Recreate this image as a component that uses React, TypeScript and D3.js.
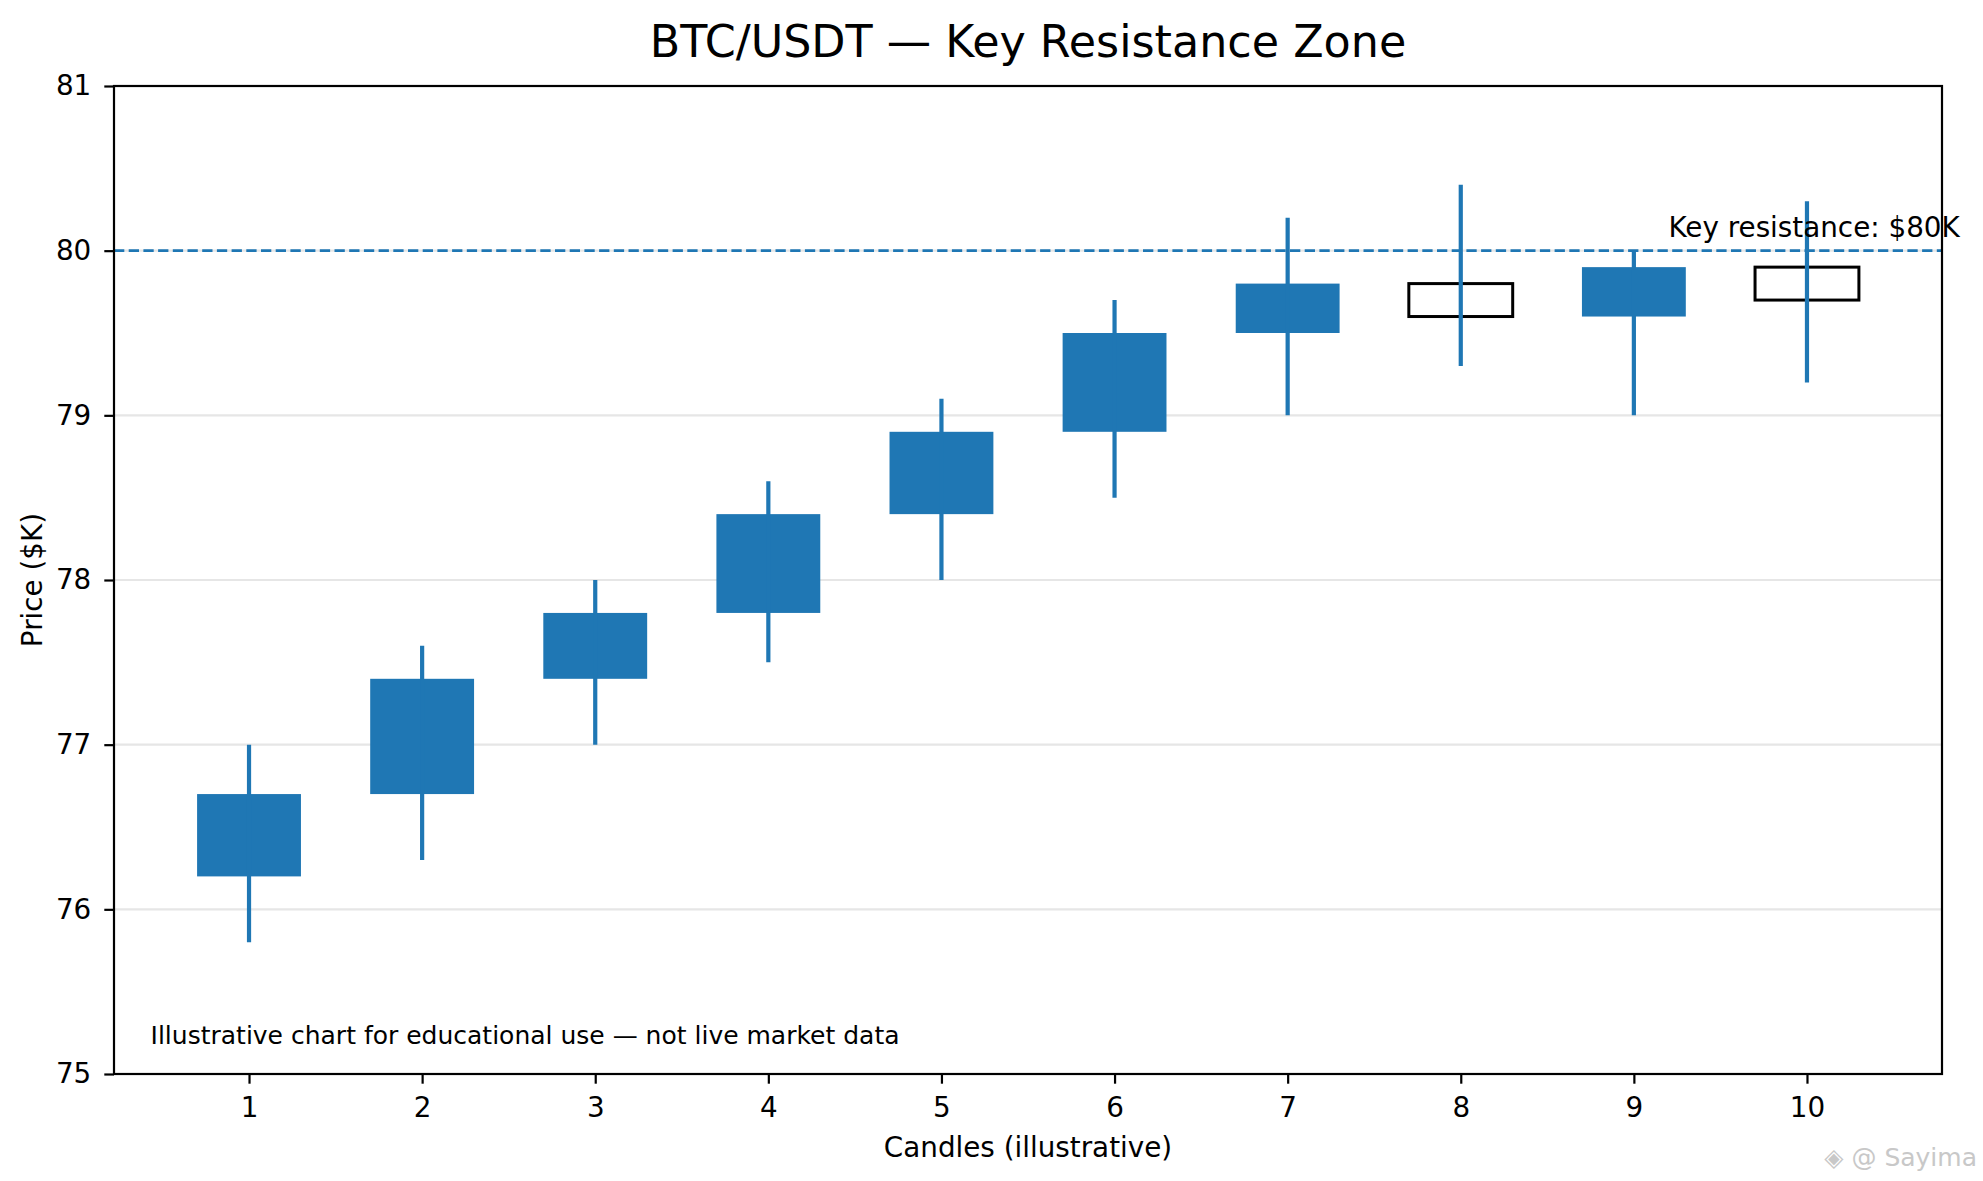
import { useEffect, useRef } from 'react';
import * as d3 from 'd3';

// Candle data (illustrative, $K)
const candleIds = [1, 2, 3, 4, 5, 6, 7, 8, 9, 10];
const opens = [76.2, 76.7, 77.4, 77.8, 78.4, 78.9, 79.5, 79.8, 79.6, 79.9];
const closes = [76.7, 77.4, 77.8, 78.4, 78.9, 79.5, 79.8, 79.6, 79.9, 79.7];
const highs = [77.0, 77.6, 78.0, 78.6, 79.1, 79.7, 80.2, 80.4, 80.0, 80.3];
const lows = [75.8, 76.3, 77.0, 77.5, 78.0, 78.5, 79.0, 79.3, 79.0, 79.2];
const yTicks = [75, 76, 77, 78, 79, 80, 81];
const resistance = 80;
const resistanceLabel = 'Key resistance: $80K';
const labelPos = { x: 9.2, y: 80.08 };

const W = 1983;
const H = 1181;
const FONT = '"DejaVu Sans", sans-serif';
const BLUE = '#1f77b4';

export default function App() {
  const svgRef = useRef<SVGSVGElement>(null);

  useEffect(() => {
    if (!svgRef.current) return;
    const svg = d3.select(svgRef.current);
    svg.selectAll('*').remove();

    const margin = { top: 86, right: 41, bottom: 107, left: 114 };
    const width = W - margin.left - margin.right;
    const height = H - margin.top - margin.bottom;

    const g = svg.append('g').attr('transform', `translate(${margin.left},${margin.top})`);

    const bodyW = 0.6;
    const x = d3.scaleLinear().domain([0.22, 10.78]).range([0, width]);
    const y = d3.scaleLinear().domain([75, 81]).range([height, 0]);
    const bw = x(1 + bodyW) - x(1);

    // grid
    g.selectAll('line.grid')
      .data(yTicks)
      .join('line')
      .attr('class', 'grid')
      .attr('x1', 0)
      .attr('x2', width)
      .attr('y1', d => y(d))
      .attr('y2', d => y(d))
      .attr('stroke', '#e6e6e6')
      .attr('stroke-width', 2.2);

    // resistance line
    g.append('line')
      .attr('x1', 0)
      .attr('x2', width)
      .attr('y1', y(resistance))
      .attr('y2', y(resistance))
      .attr('stroke', BLUE)
      .attr('stroke-width', 2.8)
      .attr('stroke-dasharray', '10.3 4.4');

    const data = candleIds.map((id, i) => ({ id, o: opens[i], c: closes[i], h: highs[i], l: lows[i] }));

    // bodies
    g.selectAll('rect.body')
      .data(data)
      .join('rect')
      .attr('class', 'body')
      .attr('x', d => x(d.id) - bw / 2)
      .attr('width', bw)
      .attr('y', d => y(Math.max(d.o, d.c)))
      .attr('height', d => Math.abs(y(d.o) - y(d.c)))
      .attr('fill', d => (d.c >= d.o ? BLUE : '#ffffff'))
      .attr('stroke', d => (d.c >= d.o ? 'none' : '#000000'))
      .attr('stroke-width', 3);

    // wicks
    g.selectAll('line.wick')
      .data(data)
      .join('line')
      .attr('class', 'wick')
      .attr('x1', d => x(d.id))
      .attr('x2', d => x(d.id))
      .attr('y1', d => y(d.l))
      .attr('y2', d => y(d.h))
      .attr('stroke', BLUE)
      .attr('stroke-width', 4.2);

    // annotation
    g.append('text')
      .attr('x', x(labelPos.x))
      .attr('y', y(labelPos.y))
      .attr('font-family', FONT)
      .attr('font-size', 27.8)
      .attr('fill', '#000')
      .text(resistanceLabel);

    g.append('text')
      .attr('x', width * 0.02)
      .attr('y', height * 0.97)
      .attr('font-family', FONT)
      .attr('font-size', 25)
      .attr('fill', '#000')
      .text('Illustrative chart for educational use — not live market data');

    // axes
    const yAxis = g.append('g').call(
      d3.axisLeft(y).tickValues(yTicks).tickSize(9.7).tickPadding(13).tickFormat(d3.format('d'))
    );
    const xAxis = g
      .append('g')
      .attr('transform', `translate(0,${height})`)
      .call(d3.axisBottom(x).tickValues(candleIds).tickSize(9.7).tickPadding(13.5).tickFormat(d3.format('d')));
    [yAxis, xAxis].forEach(a => {
      a.select('.domain').remove();
      a.selectAll('line').attr('stroke', '#000').attr('stroke-width', 2.2);
      a.selectAll('text').attr('font-family', FONT).attr('font-size', 27.8).attr('fill', '#000');
    });

    // frame
    g.append('rect')
      .attr('width', width)
      .attr('height', height)
      .attr('fill', 'none')
      .attr('stroke', '#000')
      .attr('stroke-width', 2.2);

    // labels
    svg.append('text')
      .attr('x', margin.left + width / 2)
      .attr('y', 57)
      .attr('text-anchor', 'middle')
      .attr('font-family', FONT)
      .attr('font-size', 44.4)
      .text('BTC/USDT — Key Resistance Zone');

    svg.append('text')
      .attr('x', margin.left + width / 2)
      .attr('y', 1157)
      .attr('text-anchor', 'middle')
      .attr('font-family', FONT)
      .attr('font-size', 27.8)
      .text('Candles (illustrative)');

    svg.append('text')
      .attr('transform', `translate(41.7,${margin.top + height / 2}) rotate(-90)`)
      .attr('text-anchor', 'middle')
      .attr('font-family', FONT)
      .attr('font-size', 27.8)
      .text('Price ($K)');

    // watermark
    svg.append('text')
      .attr('x', W - 6)
      .attr('y', 1166)
      .attr('text-anchor', 'end')
      .attr('font-family', FONT)
      .attr('font-size', 25)
      .attr('fill', '#c8c8c8')
      .text('◈ @ Sayima');
  }, []);

  return (
    <div style={{ position: 'absolute', left: 0, top: 0, background: '#fff' }}>
      <svg ref={svgRef} width={W} height={H} style={{ display: 'block' }} />
    </div>
  );
}
